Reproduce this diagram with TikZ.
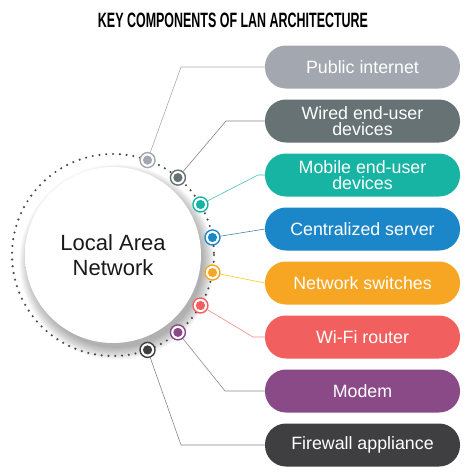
\documentclass[tikz,border=0pt]{standalone}
\usepackage{graphicx}
\usepackage{fontspec}
\setmainfont{Liberation Sans}
\usepackage{tikz}
\usetikzlibrary{positioning}
\usetikzlibrary{calc}
\usetikzlibrary{shapes,backgrounds}

\definecolor{pubgray}{HTML}{A3A7B0}
\definecolor{wiredgray}{HTML}{667273}
\definecolor{mobteal}{HTML}{17B4A4}
\definecolor{servblue}{HTML}{1B87C9}
\definecolor{switchorange}{HTML}{F6A623}
\definecolor{wifired}{HTML}{F1605F}
\definecolor{modempurple}{HTML}{8A4A88}
\definecolor{firewallblack}{HTML}{3F3F41}
\definecolor{ringdot}{HTML}{4A4A4A}

\pgfdeclareradialshading{hubshade}{\pgfpoint{0bp}{0bp}}{%
  color(0bp)=(white); color(30bp)=(white); color(44bp)=(gray!8);
  color(50bp)=(gray!28)}

\def\hubx{113}
\def\huby{255}
\def\ringr{101}

\begin{document}
\begin{tikzpicture}[x=1pt,y=-1pt,
  pill/.style={rectangle,rounded corners=21pt,minimum width=195pt,minimum height=43pt,
    inner sep=0pt,text=white,align=center,font=\fontsize{17.8}{16}\selectfont},
  marker/.style={circle,draw=#1,fill=white,line width=1.4pt,minimum size=15pt,inner sep=0pt,
    path picture={\fill[#1] (path picture bounding box.center) circle (4.6pt);}},
  link/.style={draw=#1,line width=0.6pt}]

% canvas
\fill[white] (0,0) rectangle (474,475);
\useasboundingbox (0,0) rectangle (474,475);

% title
\node (title) at (233,20) {\resizebox{270pt}{14.5pt}{\bfseries KEY COMPONENTS OF LAN ARCHITECTURE}};

% soft shadow of the hub
\foreach \k in {1,...,14}
  \fill[black,opacity=0.025] (\hubx+4,\huby+7) circle ({85+\k*0.9});

% dotted ring
\draw[ringdot,line width=2.4pt,line cap=round,dash pattern=on 0pt off 6.8pt]
  (\hubx,\huby) circle (\ringr);

% hub
\node[circle,minimum size=176pt,inner sep=0pt,shading=hubshade,align=center,
  text=black!90,font=\fontsize{22}{25}\selectfont] (lan) at (\hubx,\huby) {Local Area\\Network};

% components
\foreach \i/\col/\lcol/\ang/\cx/\txt in {
  1/pubgray/gray!65/-70/181/{Public internet},
  2/wiredgray/gray!95/-50/226/{Wired end-user\\devices},
  3/mobteal/mobteal!80/-30/258/{Mobile end-user\\devices},
  4/servblue/servblue!50!gray/-10/265/{Centralized server},
  5/switchorange/switchorange!60!yellow/10/265/{Network switches},
  6/wifired/wifired!75/30/253/{Wi-Fi router},
  7/modempurple/gray!90/50/225/{Modem},
  8/firewallblack/gray!95/70/181/{Firewall appliance}} {
  \node[pill,fill=\col] (p\i) at (362.5,{67+54*(\i-1)}) {\txt};
  \node[marker=\col] (m\i) at ($(\hubx,\huby)+(\ang:\ringr)$) {};
  \draw[link=\lcol] (m\i) -- (\cx,0 |- p\i.west) -- (p\i.west);
}
\end{tikzpicture}
\end{document}
